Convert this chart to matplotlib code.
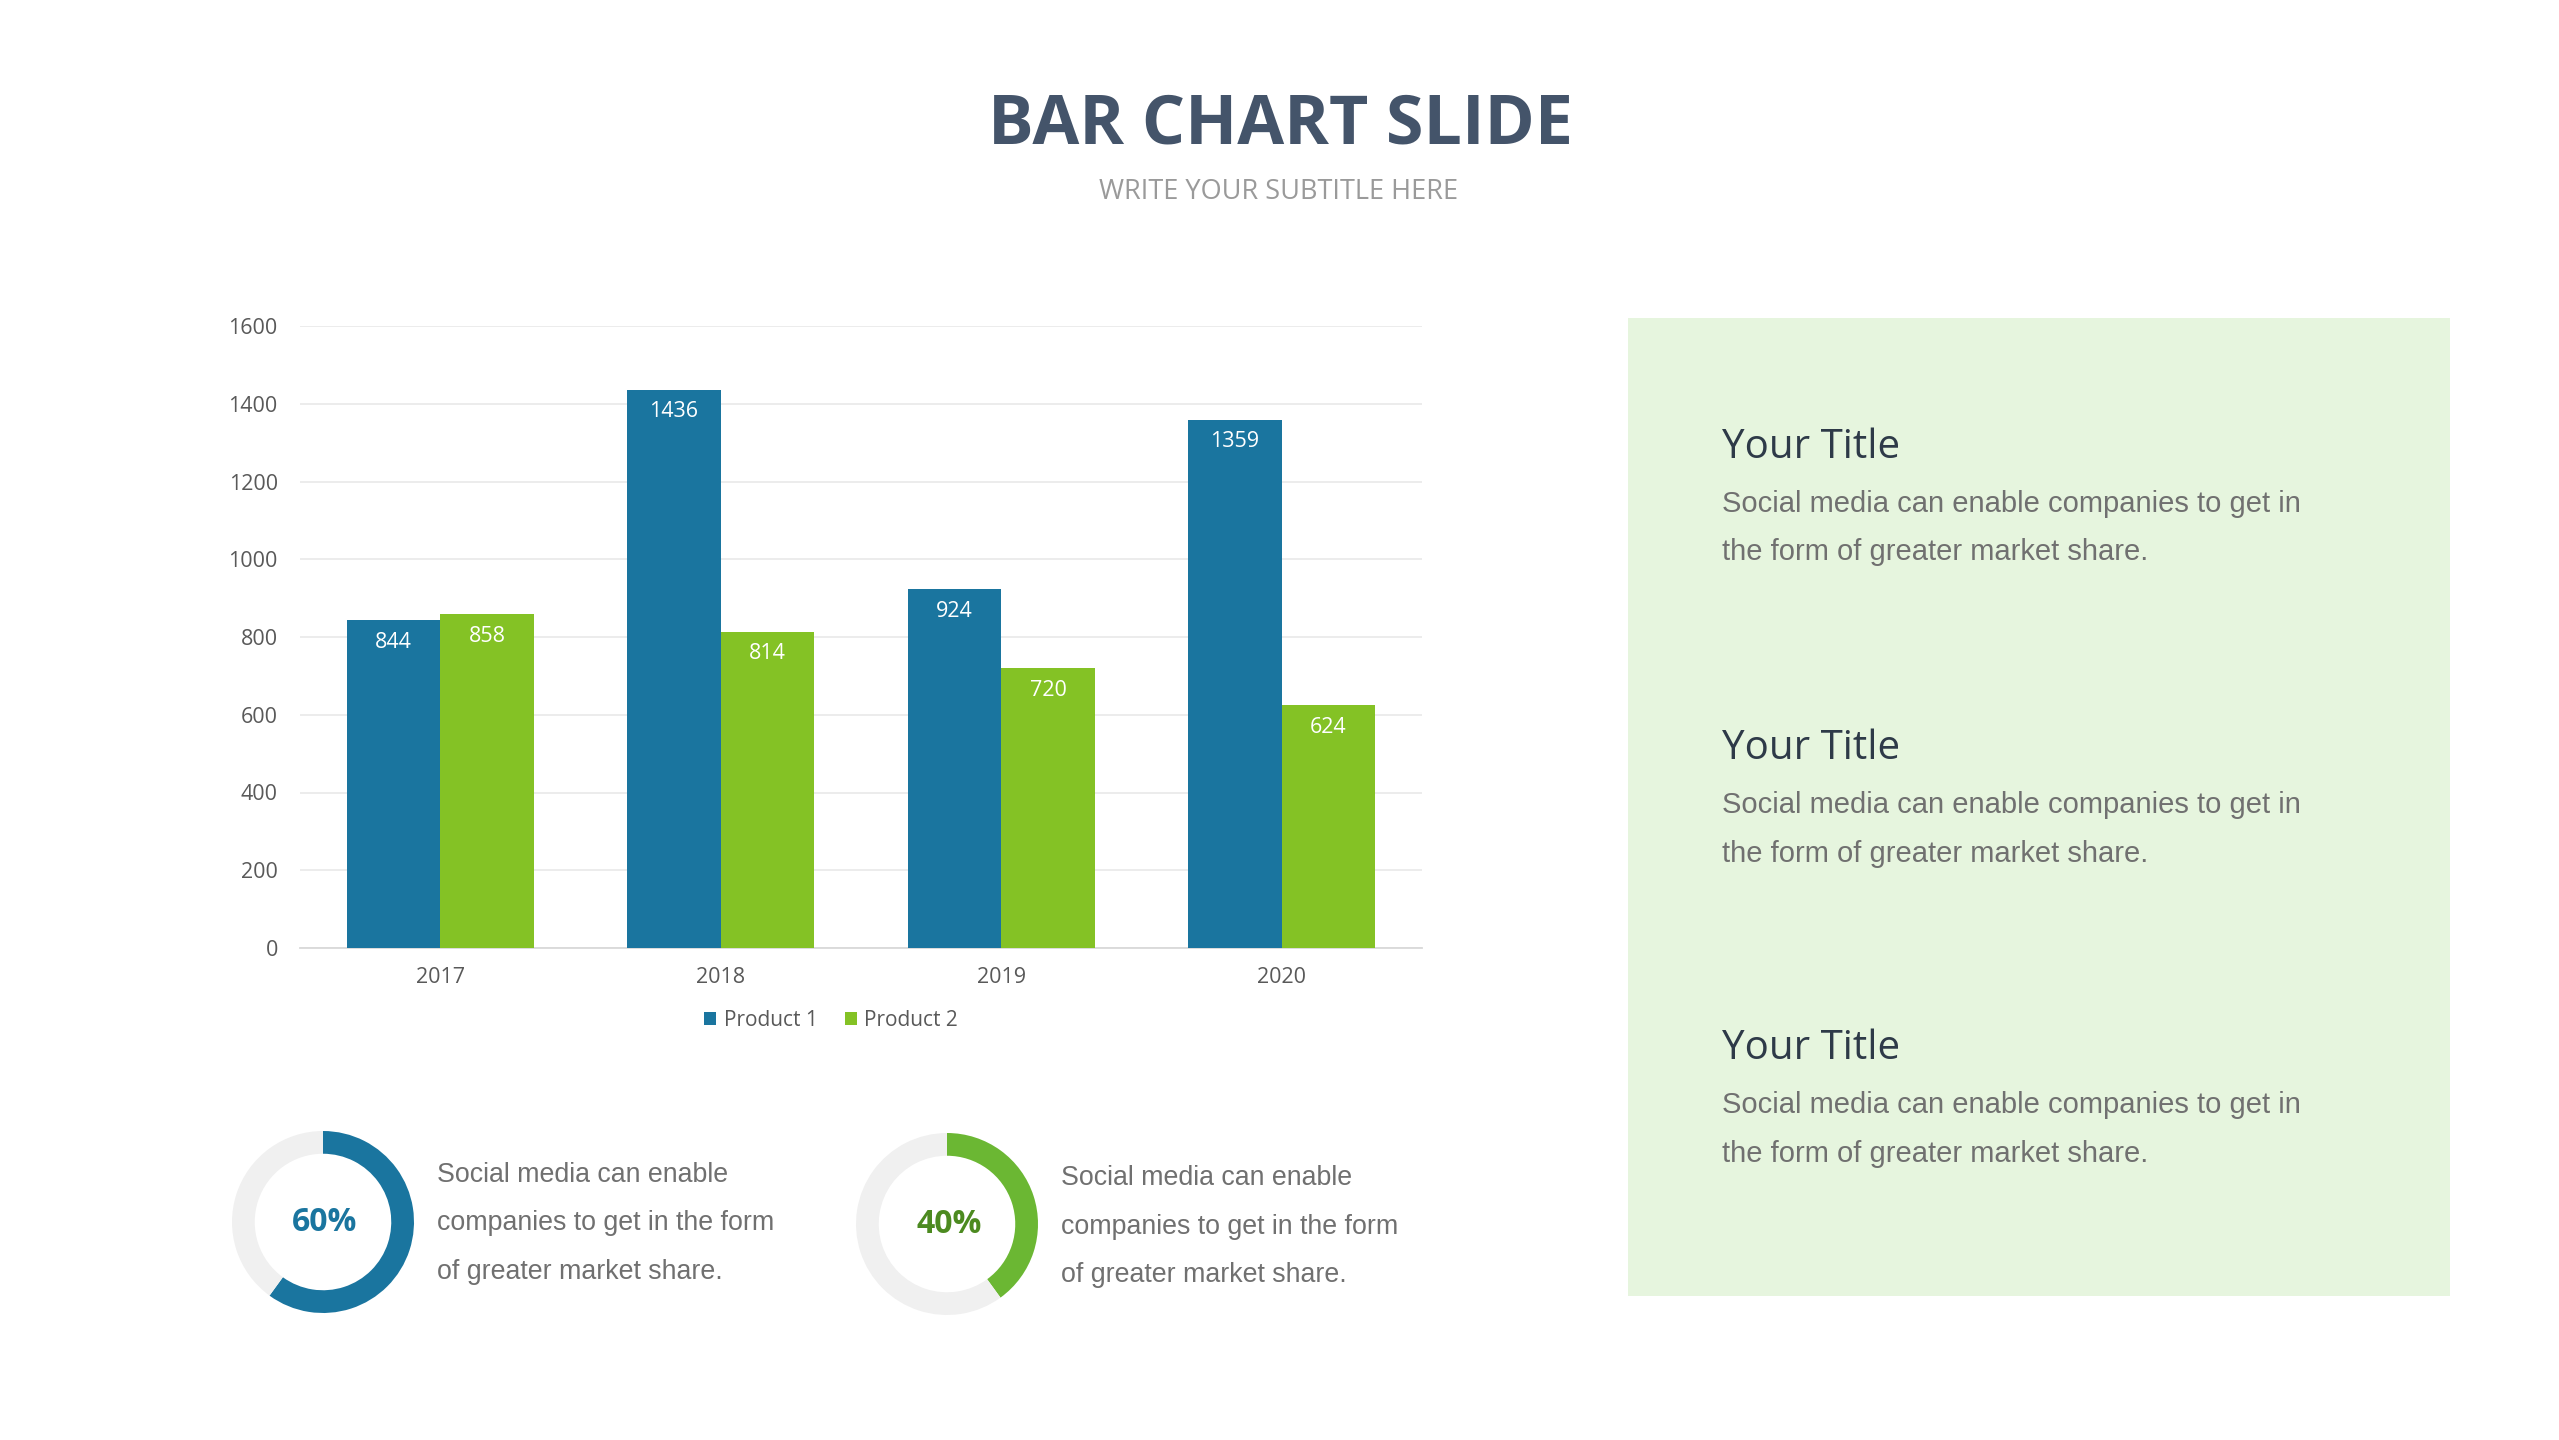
import matplotlib
matplotlib.use("Agg")
import matplotlib.pyplot as plt
import numpy as np

# ---------------- data ----------------
years = ["2017", "2018", "2019", "2020"]
product1 = [844, 1436, 924, 1359]
product2 = [858, 814, 720, 624]
series_names = ["Product 1", "Product 2"]
yticks = [0, 200, 400, 600, 800, 1000, 1200, 1400, 1600]
donut_pcts = [60, 40]
donut_labels = ["60%", "40%"]

title_text = "BAR CHART SLIDE"
subtitle_text = "WRITE YOUR SUBTITLE HERE"
panel_title = "Your Title"
panel_body = ["Social media can enable companies to get in",
              "the form of greater market share."]
donut_body = ["Social media can enable",
              "companies to get in the form",
              "of greater market share."]

# ---------------- style ----------------
BLUE = "#1A759F"
GREEN = "#84C225"
DONUT_GREEN = "#6BB733"
PCT_GREEN = "#4C8A20"
GRAY_RING = "#F0F0F0"
PANEL = "#E6F5DE"
TITLE_C = "#44546A"
DARK = "#2E3A48"
BODY = "#707070"
TICK = "#595959"

W, H = 2559, 1440
fig = plt.figure(figsize=(W / 100, H / 100), dpi=100)
fig.patch.set_facecolor("white")


def fx(px):
    return px / W


def fy(py):
    return 1 - py / H


# titles
fig.text(fx(1281), fy(143), title_text, ha="center", va="baseline",
         fontsize=49, fontweight="bold", family="Open Sans", color=TITLE_C)
fig.text(fx(1279), fy(199), subtitle_text, ha="center", va="baseline",
         fontsize=19.5, family="Open Sans", color="#9A9A9A")

# ---------------- bar chart ----------------
ax = fig.add_axes([fx(300), fy(948), fx(1422) - fx(300), fy(326) - fy(948)])
x = np.arange(len(years))
bw = 0.333
b1 = ax.bar(x - bw / 2, product1, bw, color=BLUE, label=series_names[0], zorder=3)
b2 = ax.bar(x + bw / 2, product2, bw, color=GREEN, label=series_names[1], zorder=3)
ax.set_xlim(-0.5, len(years) - 0.5)
ax.set_ylim(0, 1600)
ax.set_yticks(yticks)
ax.set_yticklabels([str(v) for v in yticks], family="Open Sans", fontsize=15.5, color=TICK)
ax.set_xticks(x)
ax.set_xticklabels(years, family="Open Sans", fontsize=15.5, color=TICK)
ax.tick_params(axis="y", length=0, pad=16)
ax.tick_params(axis="x", length=0, pad=14)
ax.grid(axis="y", color="#EBEBEB", linewidth=1.3, zorder=0)
for s in ["top", "right", "left"]:
    ax.spines[s].set_visible(False)
ax.spines["bottom"].set_color("#D9D9D9")
ax.spines["bottom"].set_linewidth(1.3)
ax.set_facecolor("none")

for bars, vals in ((b1, product1), (b2, product2)):
    for rect, v in zip(bars, vals):
        ax.annotate(str(v), (rect.get_x() + rect.get_width() / 2, v),
                    xytext=(0, -16), textcoords="offset points",
                    ha="center", va="center", color="white",
                    fontsize=15.5, family="Open Sans", zorder=4)

leg = ax.legend(handles=[b1, b2], loc="center", ncol=2, frameon=False,
                bbox_to_anchor=(fx(831), fy(1020)), bbox_transform=fig.transFigure,
                handlelength=0.6, handleheight=0.6, handletextpad=0.35,
                columnspacing=1.3, prop={"family": "Open Sans", "size": 15})
for t in leg.get_texts():
    t.set_color(TICK)

# ---------------- donuts ----------------
R = 91
donut_centers = [(323, 1222), (947, 1224)]
ring_colors = [BLUE, DONUT_GREEN]
pct_colors = [BLUE, PCT_GREEN]
text_x = [437, 1061]
text_base = [1182, 1185]
for i, (cx, cy) in enumerate(donut_centers):
    dax = fig.add_axes([fx(cx - R), fy(cy + R), fx(2 * R), 2 * R / H])
    p = donut_pcts[i]
    dax.pie([p, 100 - p], colors=[ring_colors[i], GRAY_RING], startangle=90,
            counterclock=False, radius=1.0,
            wedgeprops=dict(width=0.25, edgecolor="none"))
    dax.set_xlim(-1, 1)
    dax.set_ylim(-1, 1)
    dax.set_aspect("equal")
    dax.axis("off")
    dax.text(0.02, -0.01, donut_labels[i], ha="center", va="center", fontsize=23,
             fontweight="bold", family="Open Sans", color=pct_colors[i])
    for j, line in enumerate(donut_body):
        fig.text(fx(text_x[i]), fy(text_base[i] + 48.5 * j), line,
                 ha="left", va="baseline", fontsize=19.3,
                 family="Liberation Sans", color=BODY)

# ---------------- right panel ----------------
panel = plt.Rectangle((fx(1628), fy(1296)), fx(2450) - fx(1628), fy(318) - fy(1296),
                      transform=fig.transFigure, facecolor=PANEL, edgecolor="none",
                      zorder=0)
fig.patches.append(panel)
title_bases = [458, 759, 1059]
for tb in title_bases:
    fig.text(fx(1722), fy(tb), panel_title, ha="left", va="baseline",
             fontsize=29, family="Open Sans", color=DARK)
    for j, line in enumerate(panel_body):
        fig.text(fx(1722), fy(tb + 54 + 48.5 * j), line, ha="left", va="baseline",
                 fontsize=21, family="Liberation Sans", color=BODY)

fig.savefig("out.png", dpi=100, facecolor="white")
